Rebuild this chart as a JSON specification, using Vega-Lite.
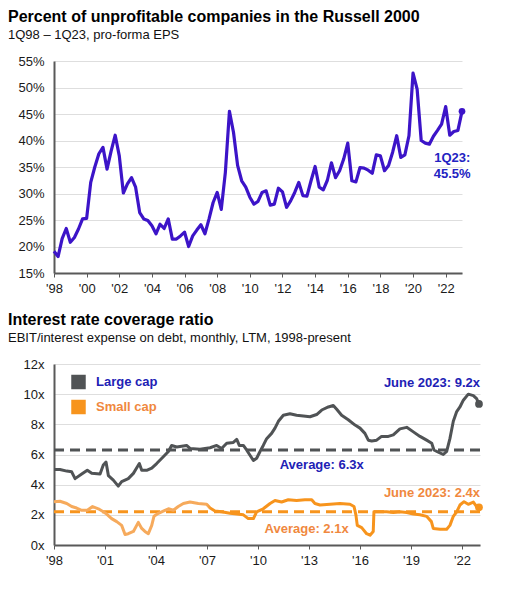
{
  "$schema": "https://vega.github.io/schema/vega-lite/v6.json",
  "background": "white",
  "padding": {"left": 8, "top": 9, "right": 10, "bottom": 10},
  "spacing": 17,
  "config": {
    "font": "Liberation Sans",
    "view": {"stroke": null},
    "axis": {
      "labelFont": "Liberation Sans",
      "labelFontSize": 13,
      "labelColor": "#1a1a1a",
      "domainColor": "#595959",
      "domainWidth": 2,
      "gridColor": "#dedede",
      "gridWidth": 1,
      "tickColor": "#595959",
      "title": null
    },
    "title": {
      "anchor": "start",
      "frame": "bounds",
      "font": "Liberation Sans",
      "fontSize": 16,
      "fontWeight": "bold",
      "color": "#000000",
      "subtitleFont": "Liberation Sans",
      "subtitleFontSize": 13,
      "subtitleColor": "#111111",
      "subtitlePadding": 4,
      "offset": 13
    }
  },
  "vconcat": [
    {
      "title": {"text": "Percent of unprofitable companies in the Russell 2000", "subtitle": "1Q98 – 1Q23, pro-forma EPS"},
      "width": 408,
      "height": 212,
      "data": {"values": [
        {"t": 1998, "v": 19.1}, {"t": 1998.25, "v": 18.1}, {"t": 1998.5, "v": 21.5}, {"t": 1998.75, "v": 23.4},
        {"t": 1999, "v": 20.8}, {"t": 1999.25, "v": 21.7}, {"t": 1999.5, "v": 23.3}, {"t": 1999.75, "v": 25.2},
        {"t": 2000, "v": 25.3}, {"t": 2000.25, "v": 32.1}, {"t": 2000.5, "v": 35}, {"t": 2000.75, "v": 37.5},
        {"t": 2001, "v": 38.7}, {"t": 2001.25, "v": 34.6}, {"t": 2001.5, "v": 38}, {"t": 2001.75, "v": 41},
        {"t": 2002, "v": 37.1}, {"t": 2002.25, "v": 30.1}, {"t": 2002.5, "v": 31.8}, {"t": 2002.75, "v": 33},
        {"t": 2003, "v": 31.2}, {"t": 2003.25, "v": 26.4}, {"t": 2003.5, "v": 25.2}, {"t": 2003.75, "v": 24.9},
        {"t": 2004, "v": 23.9}, {"t": 2004.25, "v": 22.4}, {"t": 2004.5, "v": 24.2}, {"t": 2004.75, "v": 23.4},
        {"t": 2005, "v": 25.2}, {"t": 2005.25, "v": 21.4}, {"t": 2005.5, "v": 21.4}, {"t": 2005.75, "v": 22},
        {"t": 2006, "v": 22.7}, {"t": 2006.25, "v": 20}, {"t": 2006.5, "v": 22}, {"t": 2006.75, "v": 23.1},
        {"t": 2007, "v": 24.1}, {"t": 2007.25, "v": 22.4}, {"t": 2007.5, "v": 25.2}, {"t": 2007.75, "v": 28.3},
        {"t": 2008, "v": 30.2}, {"t": 2008.25, "v": 27}, {"t": 2008.5, "v": 34}, {"t": 2008.75, "v": 45.5},
        {"t": 2009, "v": 41.5}, {"t": 2009.25, "v": 35.3}, {"t": 2009.5, "v": 32.4}, {"t": 2009.75, "v": 31.2},
        {"t": 2010, "v": 29.3}, {"t": 2010.25, "v": 28}, {"t": 2010.5, "v": 28.5}, {"t": 2010.75, "v": 30.2},
        {"t": 2011, "v": 30.5}, {"t": 2011.25, "v": 27.8}, {"t": 2011.5, "v": 28}, {"t": 2011.75, "v": 31},
        {"t": 2012, "v": 30.3}, {"t": 2012.25, "v": 27.4}, {"t": 2012.5, "v": 28.6}, {"t": 2012.75, "v": 30.2},
        {"t": 2013, "v": 32.1}, {"t": 2013.25, "v": 29.6}, {"t": 2013.5, "v": 29.5}, {"t": 2013.75, "v": 32.4},
        {"t": 2014, "v": 35.1}, {"t": 2014.25, "v": 31.2}, {"t": 2014.5, "v": 30.7}, {"t": 2014.75, "v": 32.5},
        {"t": 2015, "v": 35.8}, {"t": 2015.25, "v": 33}, {"t": 2015.5, "v": 34.3}, {"t": 2015.75, "v": 36.5},
        {"t": 2016, "v": 39.5}, {"t": 2016.25, "v": 32.4}, {"t": 2016.5, "v": 32.2}, {"t": 2016.75, "v": 34.9},
        {"t": 2017, "v": 34.8}, {"t": 2017.25, "v": 34.4}, {"t": 2017.5, "v": 33.8}, {"t": 2017.75, "v": 37.3},
        {"t": 2018, "v": 37.1}, {"t": 2018.25, "v": 34.3}, {"t": 2018.5, "v": 35.3}, {"t": 2018.75, "v": 37.8},
        {"t": 2019, "v": 40.9}, {"t": 2019.25, "v": 36.8}, {"t": 2019.5, "v": 37.3}, {"t": 2019.75, "v": 40.9},
        {"t": 2020, "v": 52.7}, {"t": 2020.25, "v": 49.7}, {"t": 2020.5, "v": 40}, {"t": 2020.75, "v": 39.5},
        {"t": 2021, "v": 39.3}, {"t": 2021.25, "v": 40.8}, {"t": 2021.5, "v": 41.9}, {"t": 2021.75, "v": 43.1},
        {"t": 2022, "v": 46.4}, {"t": 2022.25, "v": 41}, {"t": 2022.5, "v": 41.7}, {"t": 2022.75, "v": 41.9},
        {"t": 2023, "v": 45.5}
      ]},
      "encoding": {
        "x": {
          "field": "t", "type": "quantitative",
          "scale": {"domain": [1998, 2023], "nice": false},
          "axis": {
            "values": [1998, 2000, 2002, 2004, 2006, 2008, 2010, 2012, 2014, 2016, 2018, 2020, 2022],
            "labelExpr": "\"'\" + slice(toString(datum.value), 2)",
            "grid": false, "tickSize": 4, "labelPadding": 5, "labelFlush": false
          }
        },
        "y": {
          "field": "v", "type": "quantitative",
          "scale": {"domain": [15, 55], "zero": false, "nice": false},
          "axis": {
            "values": [15, 20, 25, 30, 35, 40, 45, 50, 55],
            "labelExpr": "datum.value + '%'",
            "ticks": false, "labelPadding": 10, "minExtent": 46
          }
        }
      },
      "layer": [
        {"mark": {"type": "line", "color": "#3c14c8", "strokeWidth": 3.2, "strokeJoin": "round"}},
        {
          "transform": [{"filter": "datum.t == 2023"}],
          "mark": {"type": "circle", "color": "#3c14c8", "size": 45, "opacity": 1}
        },
        {
          "data": {"values": [
            {"t": 2022.4, "v": 35.9, "label": "1Q23:"},
            {"t": 2022.4, "v": 32.9, "label": "45.5%"}
          ]},
          "mark": {"type": "text", "align": "center", "baseline": "alphabetic", "fontSize": 13, "fontWeight": "bold", "color": "#2323c2"},
          "encoding": {"text": {"field": "label"}}
        }
      ]
    },
    {
      "title": {"text": "Interest rate coverage ratio", "subtitle": "EBIT/interest expense on debt, monthly, LTM, 1998-present"},
      "width": 426,
      "height": 181,
      "data": {"values": [
        {"s": "Large cap", "t": 1998.0, "v": 5.0}, {"s": "Large cap", "t": 1998.35, "v": 5.0},
        {"s": "Large cap", "t": 1998.75, "v": 4.9}, {"s": "Large cap", "t": 1999.04, "v": 4.85},
        {"s": "Large cap", "t": 1999.24, "v": 4.4}, {"s": "Large cap", "t": 1999.63, "v": 4.7},
        {"s": "Large cap", "t": 1999.96, "v": 4.95}, {"s": "Large cap", "t": 2000.22, "v": 4.75},
        {"s": "Large cap", "t": 2000.71, "v": 4.7}, {"s": "Large cap", "t": 2000.9, "v": 5.3},
        {"s": "Large cap", "t": 2001.06, "v": 5.5}, {"s": "Large cap", "t": 2001.2, "v": 4.6},
        {"s": "Large cap", "t": 2001.49, "v": 4.3}, {"s": "Large cap", "t": 2001.78, "v": 3.9},
        {"s": "Large cap", "t": 2001.98, "v": 4.2}, {"s": "Large cap", "t": 2002.37, "v": 4.4},
        {"s": "Large cap", "t": 2002.67, "v": 4.75}, {"s": "Large cap", "t": 2002.86, "v": 5.1},
        {"s": "Large cap", "t": 2003.02, "v": 5.4}, {"s": "Large cap", "t": 2003.16, "v": 4.95},
        {"s": "Large cap", "t": 2003.45, "v": 4.95}, {"s": "Large cap", "t": 2003.75, "v": 5.1},
        {"s": "Large cap", "t": 2004.04, "v": 5.4}, {"s": "Large cap", "t": 2004.43, "v": 5.85},
        {"s": "Large cap", "t": 2004.73, "v": 6.2}, {"s": "Large cap", "t": 2004.92, "v": 6.6},
        {"s": "Large cap", "t": 2005.22, "v": 6.5}, {"s": "Large cap", "t": 2005.51, "v": 6.55},
        {"s": "Large cap", "t": 2005.8, "v": 6.6}, {"s": "Large cap", "t": 2006.0, "v": 6.4},
        {"s": "Large cap", "t": 2006.59, "v": 6.35}, {"s": "Large cap", "t": 2007.18, "v": 6.45},
        {"s": "Large cap", "t": 2007.57, "v": 6.6}, {"s": "Large cap", "t": 2007.86, "v": 6.4},
        {"s": "Large cap", "t": 2008.16, "v": 6.75}, {"s": "Large cap", "t": 2008.55, "v": 6.8},
        {"s": "Large cap", "t": 2008.75, "v": 7.0}, {"s": "Large cap", "t": 2008.9, "v": 6.6},
        {"s": "Large cap", "t": 2009.14, "v": 6.6}, {"s": "Large cap", "t": 2009.33, "v": 6.3},
        {"s": "Large cap", "t": 2009.53, "v": 5.95}, {"s": "Large cap", "t": 2009.73, "v": 5.6},
        {"s": "Large cap", "t": 2009.92, "v": 5.75}, {"s": "Large cap", "t": 2010.12, "v": 6.2},
        {"s": "Large cap", "t": 2010.31, "v": 6.6}, {"s": "Large cap", "t": 2010.51, "v": 7.05},
        {"s": "Large cap", "t": 2010.8, "v": 7.4}, {"s": "Large cap", "t": 2011.0, "v": 7.75},
        {"s": "Large cap", "t": 2011.2, "v": 8.2}, {"s": "Large cap", "t": 2011.49, "v": 8.6},
        {"s": "Large cap", "t": 2011.88, "v": 8.7}, {"s": "Large cap", "t": 2012.27, "v": 8.6},
        {"s": "Large cap", "t": 2012.67, "v": 8.55}, {"s": "Large cap", "t": 2013.06, "v": 8.5},
        {"s": "Large cap", "t": 2013.45, "v": 8.65}, {"s": "Large cap", "t": 2013.75, "v": 8.95},
        {"s": "Large cap", "t": 2014.14, "v": 9.15}, {"s": "Large cap", "t": 2014.43, "v": 9.25},
        {"s": "Large cap", "t": 2014.63, "v": 9.0}, {"s": "Large cap", "t": 2014.92, "v": 8.6},
        {"s": "Large cap", "t": 2015.31, "v": 8.3}, {"s": "Large cap", "t": 2015.71, "v": 7.95},
        {"s": "Large cap", "t": 2016.0, "v": 7.75}, {"s": "Large cap", "t": 2016.29, "v": 7.4},
        {"s": "Large cap", "t": 2016.49, "v": 6.95}, {"s": "Large cap", "t": 2016.69, "v": 6.9},
        {"s": "Large cap", "t": 2016.98, "v": 6.95}, {"s": "Large cap", "t": 2017.27, "v": 7.2},
        {"s": "Large cap", "t": 2017.67, "v": 7.2}, {"s": "Large cap", "t": 2017.96, "v": 7.3},
        {"s": "Large cap", "t": 2018.35, "v": 7.7}, {"s": "Large cap", "t": 2018.75, "v": 7.8},
        {"s": "Large cap", "t": 2019.14, "v": 7.5}, {"s": "Large cap", "t": 2019.53, "v": 7.2},
        {"s": "Large cap", "t": 2019.92, "v": 6.95}, {"s": "Large cap", "t": 2020.22, "v": 6.75},
        {"s": "Large cap", "t": 2020.35, "v": 6.3}, {"s": "Large cap", "t": 2020.61, "v": 6.15},
        {"s": "Large cap", "t": 2020.9, "v": 6.0}, {"s": "Large cap", "t": 2021.1, "v": 6.2},
        {"s": "Large cap", "t": 2021.29, "v": 7.05}, {"s": "Large cap", "t": 2021.49, "v": 8.2},
        {"s": "Large cap", "t": 2021.69, "v": 8.85}, {"s": "Large cap", "t": 2021.88, "v": 9.15},
        {"s": "Large cap", "t": 2022.08, "v": 9.6}, {"s": "Large cap", "t": 2022.37, "v": 10.0},
        {"s": "Large cap", "t": 2022.67, "v": 9.9}, {"s": "Large cap", "t": 2022.86, "v": 9.7},
        {"s": "Large cap", "t": 2023.0, "v": 9.35},
        {"s": "Small cap", "t": 1998.0, "v": 2.87}, {"s": "Small cap", "t": 1998.35, "v": 2.9},
        {"s": "Small cap", "t": 1998.75, "v": 2.75}, {"s": "Small cap", "t": 1999.04, "v": 2.55},
        {"s": "Small cap", "t": 1999.33, "v": 2.45}, {"s": "Small cap", "t": 1999.63, "v": 2.3},
        {"s": "Small cap", "t": 1999.96, "v": 2.3}, {"s": "Small cap", "t": 2000.27, "v": 2.55},
        {"s": "Small cap", "t": 2000.61, "v": 2.4}, {"s": "Small cap", "t": 2000.9, "v": 2.2},
        {"s": "Small cap", "t": 2001.1, "v": 2.05}, {"s": "Small cap", "t": 2001.39, "v": 1.75},
        {"s": "Small cap", "t": 2001.69, "v": 1.55}, {"s": "Small cap", "t": 2001.98, "v": 1.3},
        {"s": "Small cap", "t": 2002.18, "v": 0.7}, {"s": "Small cap", "t": 2002.37, "v": 0.75},
        {"s": "Small cap", "t": 2002.67, "v": 0.9}, {"s": "Small cap", "t": 2002.96, "v": 1.5},
        {"s": "Small cap", "t": 2003.16, "v": 1.1}, {"s": "Small cap", "t": 2003.35, "v": 0.9},
        {"s": "Small cap", "t": 2003.55, "v": 0.75}, {"s": "Small cap", "t": 2003.75, "v": 1.3},
        {"s": "Small cap", "t": 2003.88, "v": 1.9}, {"s": "Small cap", "t": 2004.14, "v": 2.1},
        {"s": "Small cap", "t": 2004.43, "v": 2.25}, {"s": "Small cap", "t": 2004.73, "v": 2.4},
        {"s": "Small cap", "t": 2005.02, "v": 2.3}, {"s": "Small cap", "t": 2005.31, "v": 2.55},
        {"s": "Small cap", "t": 2005.61, "v": 2.75}, {"s": "Small cap", "t": 2006.0, "v": 2.85},
        {"s": "Small cap", "t": 2006.49, "v": 2.75}, {"s": "Small cap", "t": 2006.98, "v": 2.7},
        {"s": "Small cap", "t": 2007.18, "v": 2.45}, {"s": "Small cap", "t": 2007.47, "v": 2.25},
        {"s": "Small cap", "t": 2007.86, "v": 2.2}, {"s": "Small cap", "t": 2008.35, "v": 2.1},
        {"s": "Small cap", "t": 2008.75, "v": 2.05}, {"s": "Small cap", "t": 2009.14, "v": 2.0},
        {"s": "Small cap", "t": 2009.43, "v": 1.75}, {"s": "Small cap", "t": 2009.73, "v": 1.75},
        {"s": "Small cap", "t": 2009.92, "v": 2.2}, {"s": "Small cap", "t": 2010.31, "v": 2.4},
        {"s": "Small cap", "t": 2010.71, "v": 2.75}, {"s": "Small cap", "t": 2011.0, "v": 2.95},
        {"s": "Small cap", "t": 2011.39, "v": 2.85}, {"s": "Small cap", "t": 2011.78, "v": 3.0},
        {"s": "Small cap", "t": 2012.27, "v": 2.95}, {"s": "Small cap", "t": 2012.76, "v": 3.0},
        {"s": "Small cap", "t": 2013.16, "v": 3.0}, {"s": "Small cap", "t": 2013.35, "v": 2.75},
        {"s": "Small cap", "t": 2013.65, "v": 2.65}, {"s": "Small cap", "t": 2014.24, "v": 2.7},
        {"s": "Small cap", "t": 2014.82, "v": 2.75}, {"s": "Small cap", "t": 2015.41, "v": 2.7},
        {"s": "Small cap", "t": 2015.65, "v": 2.55}, {"s": "Small cap", "t": 2015.76, "v": 2.0},
        {"s": "Small cap", "t": 2015.84, "v": 1.3}, {"s": "Small cap", "t": 2016.1, "v": 1.15},
        {"s": "Small cap", "t": 2016.39, "v": 0.75}, {"s": "Small cap", "t": 2016.59, "v": 0.65},
        {"s": "Small cap", "t": 2016.78, "v": 0.9}, {"s": "Small cap", "t": 2016.82, "v": 2.2},
        {"s": "Small cap", "t": 2017.18, "v": 2.2}, {"s": "Small cap", "t": 2017.57, "v": 2.2},
        {"s": "Small cap", "t": 2017.96, "v": 2.15}, {"s": "Small cap", "t": 2018.35, "v": 2.2},
        {"s": "Small cap", "t": 2018.75, "v": 2.15}, {"s": "Small cap", "t": 2019.14, "v": 2.05},
        {"s": "Small cap", "t": 2019.53, "v": 2.0}, {"s": "Small cap", "t": 2019.92, "v": 1.9},
        {"s": "Small cap", "t": 2020.2, "v": 1.55}, {"s": "Small cap", "t": 2020.31, "v": 1.1},
        {"s": "Small cap", "t": 2020.71, "v": 1.05}, {"s": "Small cap", "t": 2021.1, "v": 1.05},
        {"s": "Small cap", "t": 2021.29, "v": 1.3}, {"s": "Small cap", "t": 2021.49, "v": 1.9},
        {"s": "Small cap", "t": 2021.69, "v": 2.2}, {"s": "Small cap", "t": 2021.88, "v": 2.65},
        {"s": "Small cap", "t": 2022.12, "v": 2.87}, {"s": "Small cap", "t": 2022.37, "v": 2.7},
        {"s": "Small cap", "t": 2022.67, "v": 2.85}, {"s": "Small cap", "t": 2022.86, "v": 2.55},
        {"s": "Small cap", "t": 2023.0, "v": 2.5}
      ]},
      "encoding": {
        "x": {
          "field": "t", "type": "quantitative",
          "scale": {"domain": [1998, 2023.06], "nice": false},
          "axis": {
            "values": [1998, 2001, 2004, 2007, 2010, 2013, 2016, 2019, 2022],
            "labelExpr": "\"'\" + slice(toString(datum.value), 2)",
            "grid": false, "tickSize": 4, "labelPadding": 5, "labelFlush": false
          }
        },
        "y": {
          "field": "v", "type": "quantitative",
          "scale": {"domain": [0, 12], "nice": false},
          "axis": {
            "values": [0, 2, 4, 6, 8, 10, 12],
            "labelExpr": "datum.value + 'x'",
            "ticks": false, "labelPadding": 10, "minExtent": 46
          }
        }
      },
      "layer": [
        {
          "data": {"values": [{"s": "Large cap", "v": 6.3}, {"s": "Small cap", "v": 2.2}]},
          "mark": {"type": "rule", "strokeDash": [10, 6], "strokeWidth": 3},
          "encoding": {
            "x": null,
            "color": {"condition": {"test": "datum.s == 'Large cap'", "value": "#505355"}, "value": "#f7941d"}
          }
        },
        {
          "transform": [{"filter": "datum.s == 'Large cap'"}],
          "mark": {"type": "line", "color": "#505355", "strokeWidth": 3, "strokeJoin": "round"}
        },
        {
          "transform": [{"filter": "datum.s == 'Small cap'"}],
          "mark": {
            "type": "line", "strokeWidth": 3, "strokeJoin": "round",
            "color": {
              "gradient": "linear", "x1": 0, "y1": 0, "x2": 1, "y2": 0,
              "stops": [
                {"offset": 0, "color": "#f6aa5c"},
                {"offset": 0.36, "color": "#f6aa5c"},
                {"offset": 0.37, "color": "#f7941d"},
                {"offset": 1, "color": "#f7941d"}
              ]
            }
          }
        },
        {
          "transform": [{"filter": "datum.t == 2023"}],
          "mark": {"type": "point", "filled": true, "size": 60, "opacity": 1},
          "encoding": {
            "color": {
              "field": "s", "type": "nominal",
              "scale": {"domain": ["Large cap", "Small cap"], "range": ["#505355", "#f7941d"]},
              "legend": {
                "title": null, "orient": "none", "legendX": 17, "legendY": 313.5,
                "symbolType": "square", "symbolSize": 210, "symbolOpacity": 1, "symbolStrokeWidth": 0,
                "labelFont": "Liberation Sans", "labelFontSize": 13, "labelFontWeight": "bold",
                "labelOffset": 10, "rowPadding": 10,
                "labelColor": {"expr": "datum.label == 'Large cap' ? '#2121b5' : '#f0883e'"}
              }
            }
          }
        },
        {
          "data": {"values": [
            {"s": "Large cap", "t": 2023.06, "v": 10.45, "label": "June 2023: 9.2x"},
            {"s": "Small cap", "t": 2023.06, "v": 3.21, "label": "June 2023: 2.4x"}
          ]},
          "mark": {"type": "text", "align": "right", "baseline": "alphabetic", "fontSize": 13, "fontWeight": "bold"},
          "encoding": {
            "text": {"field": "label"},
            "color": {"condition": {"test": "datum.s == 'Large cap'", "value": "#2121b5"}, "value": "#f0883e"}
          }
        },
        {
          "data": {"values": [
            {"s": "Large cap", "t": 2013.75, "v": 5.04, "label": "Average: 6.3x"},
            {"s": "Small cap", "t": 2012.86, "v": 0.82, "label": "Average: 2.1x"}
          ]},
          "mark": {"type": "text", "align": "center", "baseline": "alphabetic", "fontSize": 13, "fontWeight": "bold"},
          "encoding": {
            "text": {"field": "label"},
            "color": {"condition": {"test": "datum.s == 'Large cap'", "value": "#2121b5"}, "value": "#f0883e"}
          }
        }
      ]
    }
  ]
}
